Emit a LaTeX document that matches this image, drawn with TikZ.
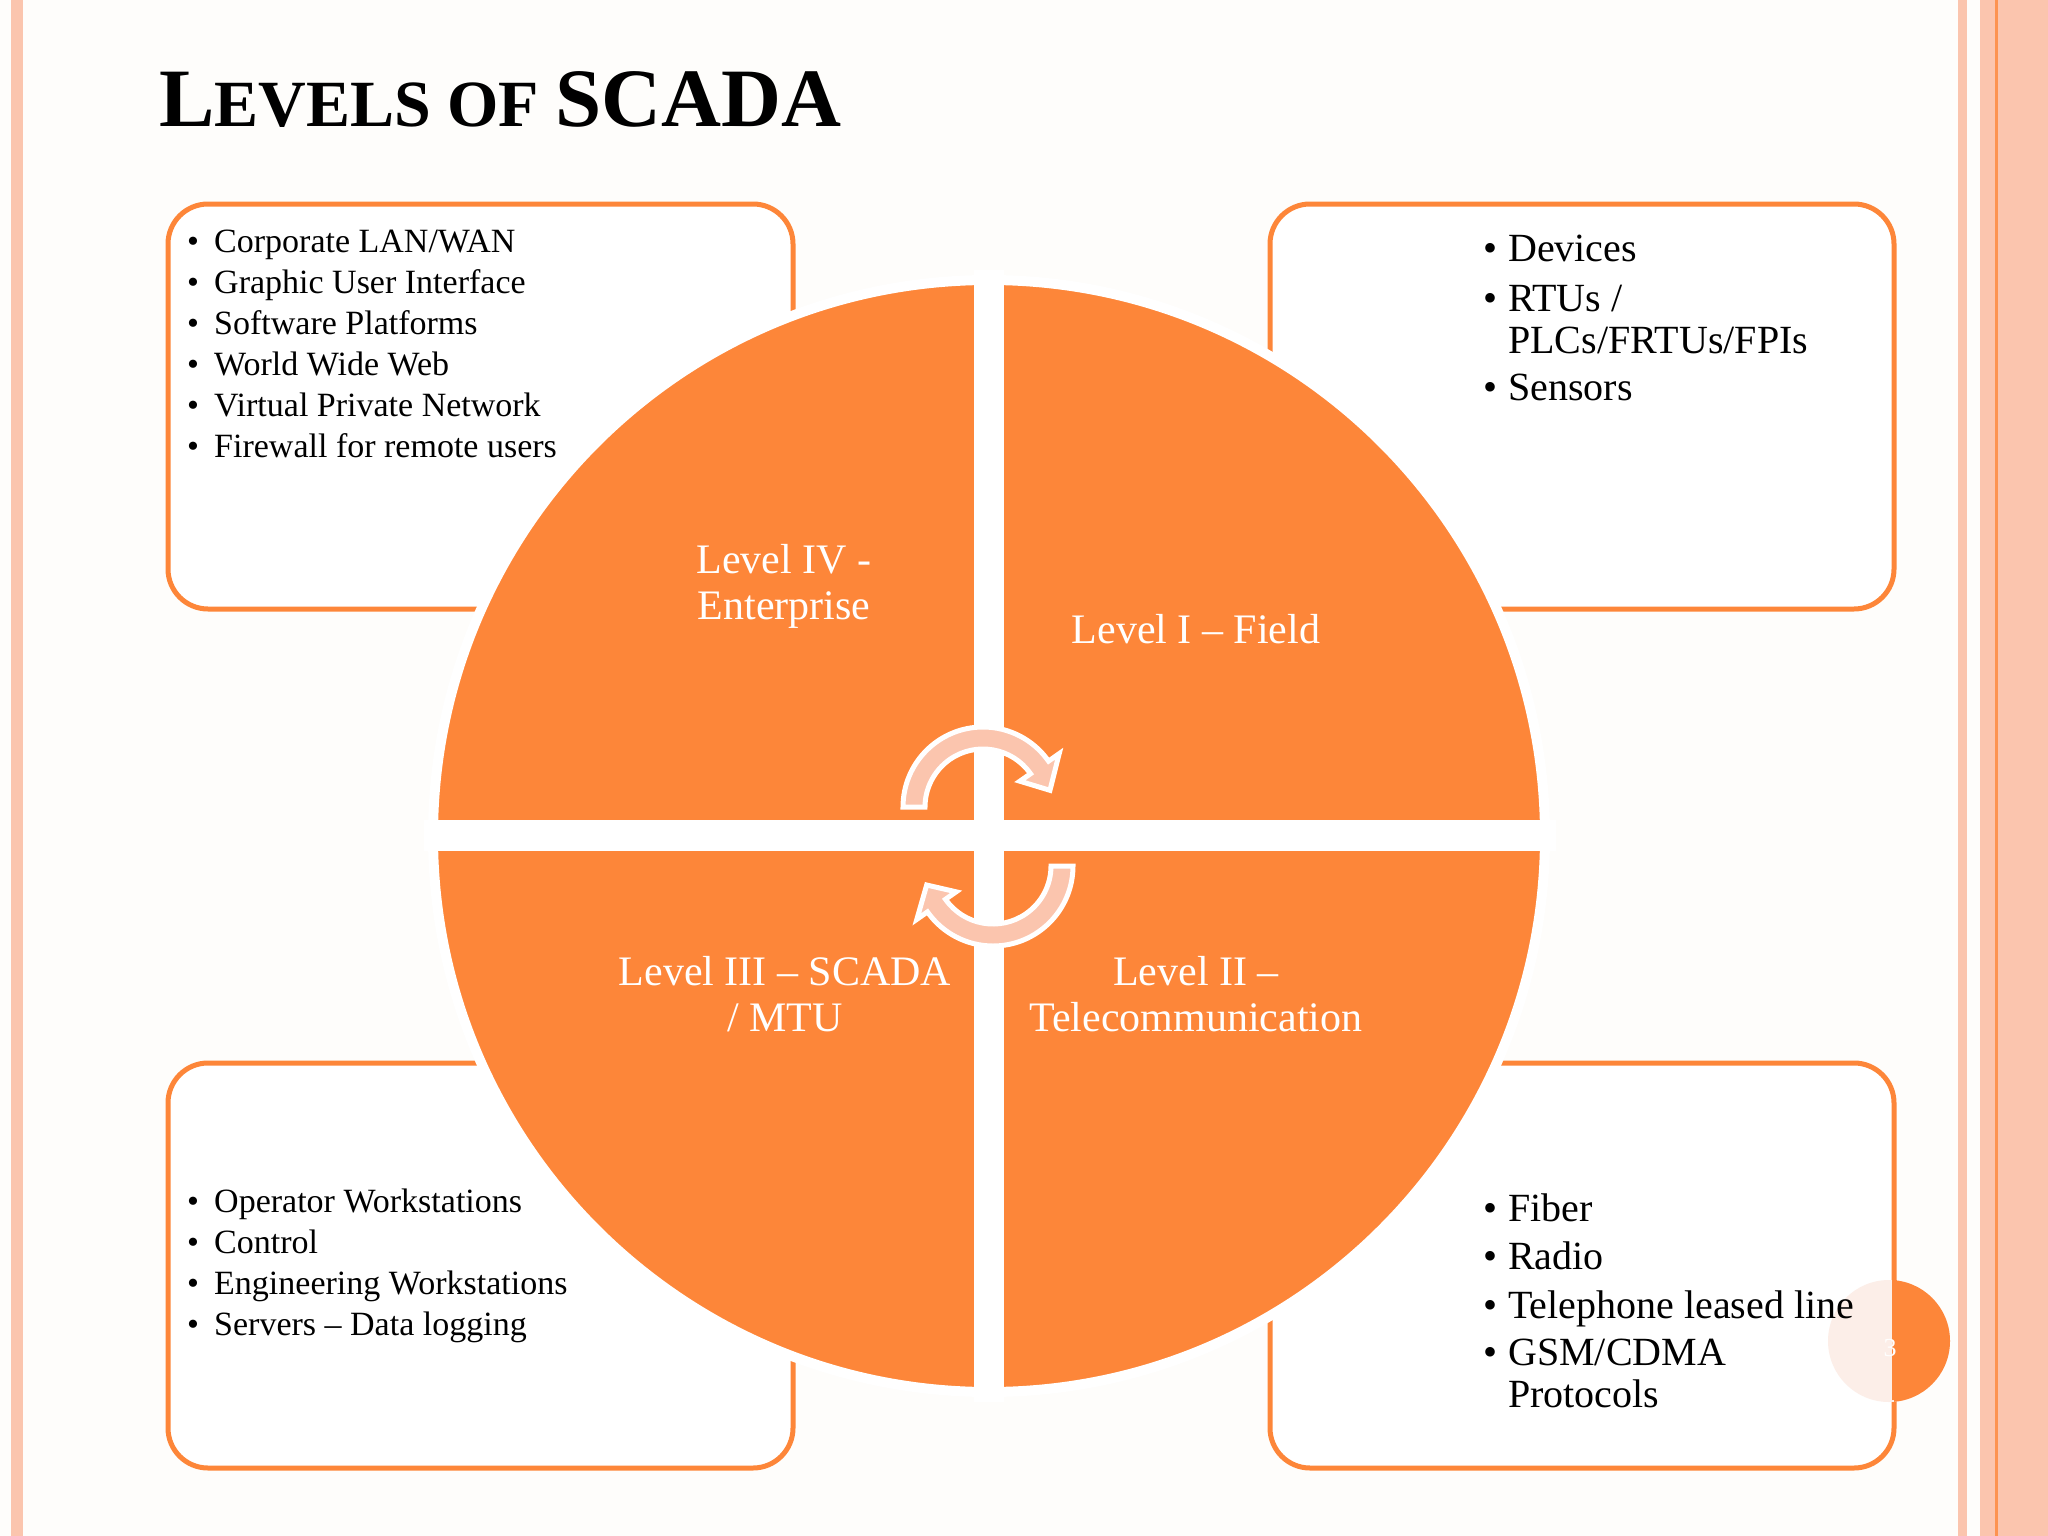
\documentclass[tikz,border=0pt]{standalone}
\usepackage{fontspec}
\setmainfont{Liberation Serif}
\definecolor{org}{RGB}{253,134,57}
\definecolor{pale}{RGB}{251,197,174}
\definecolor{paler}{RGB}{252,238,232}
\definecolor{bg}{RGB}{254,253,251}
\begin{document}
\begin{tikzpicture}[x=1pt,y=-1pt,
  box/.style={draw=org,line width=5pt,rounded corners=40pt,fill=white},
  item/.style={anchor=base west,inner sep=0pt,font=\fontsize{#1}{#1}\selectfont},
  bul/.style={anchor=base,inner sep=0pt,font=\fontsize{#1}{#1}\selectfont},
  lvl/.style={align=center,text=white,font=\fontsize{42}{46}\selectfont,inner sep=0pt,anchor=base},
  arr/.style={fill=pale,draw=white,line width=5pt,line join=miter}]
\useasboundingbox (0,0) rectangle (2048,1536);
\fill[bg] (0,0) rectangle (2048,1536);
% side stripes
\fill[pale] (11,0) rectangle (23,1536);
\fill[pale] (1958,0) rectangle (1967,1536);
\fill[pale] (1980,0) rectangle (2048,1536);
\fill[org!80!pale] (1995,0) rectangle (1998,1536);
% title
\node[anchor=base west,inner sep=0pt,font=\bfseries] (title) at (159,127)
 {\fontsize{83}{83}\selectfont L\fontsize{66}{66}\selectfont EVELS OF \fontsize{83}{83}\selectfont SCADA};
% boxes
\draw[box] (168,204) rectangle (793,1468) [draw=none,fill=none];
\draw[box] (168,204) rectangle (793,609);
\draw[box] (1270,204) rectangle (1894,609);
\draw[box] (168,1063) rectangle (793,1468);
\draw[box] (1270,1063) rectangle (1894,1468);
% circle
\fill[org,draw=white,line width=10pt] (989,836) circle (556);
\fill[white] (974,270) rectangle (1004,1402);
\fill[white] (424,820) rectangle (1556,851);
% arrows
\draw[arr] ([shift={(983,807)}]180:80) arc[start angle=180,end angle=325,radius=80]
  -- ([shift={(983,807)}]325:93) -- ([shift={(983,807)}]346:69)
  -- ([shift={(983,807)}]325:45) -- ([shift={(983,807)}]325:58)
  arc[start angle=325,end angle=180,radius=58] -- cycle;
\draw[arr] ([shift={(993,866)}]0:80) arc[start angle=0,end angle=145,radius=80]
  -- ([shift={(993,866)}]145:93) -- ([shift={(993,866)}]164:69)
  -- ([shift={(993,866)}]145:45) -- ([shift={(993,866)}]145:58)
  arc[start angle=145,end angle=0,radius=58] -- cycle;
% level labels
\node[lvl] (l4) at (784,619) {Level IV -\\Enterprise};
\node[lvl] (l1) at (1196,643) {Level I -- Field};
\node[lvl] (l3) at (785,1031) {Level III -- SCADA\\/ MTU};
\node[lvl] (l2) at (1196,1031) {Level II --\\Telecommunication};
% top-left list
\foreach \t [count=\i] in {Corporate LAN/WAN,Graphic User Interface,Software Platforms,World Wide Web,Virtual Private Network,Firewall for remote users}{
  \node[bul=34] (tlb\i) at (193,{252+41*(\i-1)}) {•};
  \node[item=34] (tl\i) at (214,{252+41*(\i-1)}) {\t};}
% bottom-left list
\foreach \t [count=\i] in {Operator Workstations,Control,Engineering Workstations,Servers -- Data logging}{
  \node[bul=34] (blb\i) at (193,{1212+41.3*(\i-1)}) {•};
  \node[item=34] (bl\i) at (214,{1212+41.3*(\i-1)}) {\t};}
% top-right list
\node[bul=40] (trb1) at (1490,261) {•}; \node[item=40] (tr1) at (1508,261) {Devices};
\node[bul=40] (trb2) at (1490,311) {•}; \node[item=40] (tr2) at (1508,311) {RTUs /};
\node[item=40] (tr2b) at (1508,353) {PLCs/FRTUs/FPIs};
\node[bul=40] (trb3) at (1490,400) {•}; \node[item=40] (tr3) at (1508,400) {Sensors};
% page number circle
\begin{scope}
\fill[paler] (1889,1341) circle (61);
\clip (1894,1270) rectangle (1960,1420);
\fill[org] (1889,1341) circle (61);
\end{scope}
\draw[org,line width=5pt] (1894,1280) -- (1894,1400);
\node[text=white,font=\fontsize{26}{26}\selectfont] (pg) at (1890,1348) {3};
% bottom-right list
\node[bul=40] (brb1) at (1490,1221) {•}; \node[item=40] (br1) at (1508,1221) {Fiber};
\node[bul=40] (brb2) at (1490,1269) {•}; \node[item=40] (br2) at (1508,1269) {Radio};
\node[bul=40] (brb3) at (1490,1318) {•}; \node[item=40] (br3) at (1508,1318) {Telephone leased line};
\node[bul=40] (brb4) at (1490,1365) {•}; \node[item=40] (br4) at (1508,1365) {GSM/CDMA};
\node[item=40] (br4b) at (1508,1407) {Protocols};
\end{tikzpicture}
\end{document}
